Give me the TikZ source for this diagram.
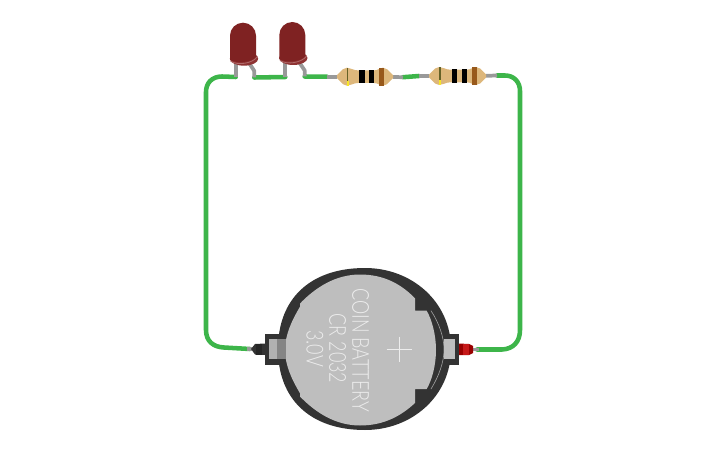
\documentclass[tikz,border=0pt]{standalone}
\usepackage{fontspec}
\newfontfamily\thinfont{Lato Light}
\definecolor{wiregreen}{HTML}{3DB54A}
\definecolor{leadgray}{HTML}{999999}
\definecolor{ledred}{HTML}{7F2222}
\definecolor{ledrim}{HTML}{8E3232}
\definecolor{ledlight}{HTML}{B06A6A}
\definecolor{tan}{HTML}{DDB77B}
\definecolor{holder}{HTML}{333333}
\definecolor{cell}{HTML}{BEBEBE}
\definecolor{celltext}{HTML}{EDEDED}
\tikzset{
  wire/.style={draw=wiregreen,line width=3.4pt,line cap=round,line join=round},
  lead/.style={draw=leadgray,line width=2.8pt,line join=round},
  celllabel/.style={rotate=-90,text=celltext,inner sep=0pt,font=\thinfont\fontsize{17.5}{17.5}\selectfont},
  led/.pic={
    \fill[ledrim] (14,36) ellipse [x radius=14.2,y radius=7];
    \draw[ledlight,line width=.6pt] (0.6,38.5) .. controls (8,43) and (22,41) .. (27.5,34);
    \fill[ledred] (0,13) arc [start angle=180,end angle=360,radius=13] -- (26,34) .. controls (22,40) and (6,41) .. (0,37) -- cycle;
  },
  resistor/.pic={
    \fill[tan] (0,-1.5) -- (6,-7.5) .. controls (7.5,-9) and (8,-9) .. (10,-9) .. controls (14,-9) and (16,-6.3) .. (21,-6.3)
      -- (37,-6.3) .. controls (41,-6.3) and (43,-9) .. (46,-9) .. controls (48,-9) and (48.5,-9) .. (50,-7.5) -- (56,-1.5)
      -- (56,1.5) -- (50,7.5) .. controls (48.5,9) and (48,9) .. (46,9) .. controls (43,9) and (41,6.3) .. (37,6.3)
      -- (21,6.3) .. controls (16,6.3) and (14,9) .. (10,9) .. controls (8,9) and (7.5,9) .. (6,7.5) -- (0,1.5) -- cycle;
    \fill[black!10!olive!70!black] (10.1,-8.7) rectangle (11.4,4);
    \fill[yellow!75!tan] (10,4) rectangle (12,9);
    \fill[black] (22.3,-6.6) rectangle (27.7,6.6);
    \fill[black] (32,-6.6) rectangle (37.3,6.6);
    \fill[brown!60!orange!70!black] (41.7,-9) rectangle (47,9);
  }
}
\begin{document}
\begin{tikzpicture}[x=0.75pt,y=-0.75pt]
\useasboundingbox (0,0) rectangle (725,453);
% named anchor points
\coordinate (a1) at (235.7,77);
\coordinate (c1) at (254.3,77.5);
\coordinate (a2) at (285.3,77);
\coordinate (c2) at (304.7,76.5);
\coordinate (r1l) at (337,76.7);
\coordinate (r1r) at (393,77);
\coordinate (r2l) at (429,76);
\coordinate (r2r) at (486,75.8);
\coordinate (bn) at (250,349);
\coordinate (bp) at (477,349.5);
% wires
\draw[wire] (a1) -- (222,76.5) .. controls (212,76.5) and (206,83) .. (206,92) -- (206,330)
  .. controls (206,341) and (213,347) .. (224,347.5) -- (bn);
\draw[wire] (c1) -- (a2);
\draw[wire] (c2) -- (327,76.7);
\draw[wire] (403,77.2) -- (419,76);
\draw[wire] (497,75.5) -- (505,75.5) .. controls (514,75.5) and (520,82) .. (520,91) -- (520,330)
  .. controls (520,342) and (513,349) .. (502,349.5) -- (bp);
% leads
\draw[lead] (a1) -- (235.7,60);
\draw[lead] (c1) -- (254.3,71) -- (248.5,62);
\draw[lead] (a2) -- (285.3,60);
\draw[lead] (c2) -- (304.7,70.5) -- (299,62);
\draw[lead] (327,76.7) -- (r1l);
\draw[lead] (r1r) -- (403,77.2);
\draw[lead] (419,76) -- (r2l);
\draw[lead] (r2r) -- (497,75.5);
% LEDs
\pic at (230,22.7) {led};
\pic at (279.3,22) {led};
% resistors
\pic at (337,76.7) {resistor};
\pic[xscale=1.02] at (429,76) {resistor};
% battery terminals
\draw[leadgray,line width=2.4pt] (247,349) -- (252,349);
\fill[holder] (251,349) -- (255,344) -- (265,343.5) -- (265,355) -- (255,354.5) -- cycle;
\fill[black!85] (256,343.5) rectangle (262,355);
\draw[leadgray,line width=2.4pt] (472,349.3) -- (479,349.3);
\fill[red!60!black] (459,343.5) -- (469,344) -- (473,346) -- (473,353) -- (469,355) -- (459,355) -- cycle;
\fill[red!75!black!90] (463,344) rectangle (469,355);
% holder
\fill[holder] (365,268) .. controls (311,268) and (278,298) .. (278,349)
  .. controls (278,400) and (311,430) .. (365,430)
  .. controls (412,430) and (451,396) .. (451,349)
  .. controls (451,302) and (412,268) .. (365,268) -- cycle;
\fill[holder] (265,334) rectangle (287,365);
\fill[holder] (443,334) rectangle (459,365);
% cell
\fill[cell] (360,274.5) .. controls (335,274.5) and (315,288) .. (300,303.5) -- (300,306.7)
  .. controls (292,320) and (285,335) .. (285,350) .. controls (285,365) and (292,380) .. (300,393.3)
  -- (300,396.5) .. controls (315,412) and (335,425.5) .. (360,425.5)
  .. controls (385,425.5) and (402,415) .. (415,403) -- (415,389) -- (426.7,389)
  .. controls (432,380) and (436,365) .. (436,350) .. controls (436,335) and (432,320) .. (426.7,310.7)
  -- (415,310.7) -- (415,298.3) .. controls (402,285) and (385,274.5) .. (360,274.5) -- cycle;
\draw[cell!85!black,line width=.45pt] (431,310.7) .. controls (439,323) and (444,337) .. (444,349.5) .. controls (444,362) and (439,376) .. (431,389);
% tab windows
\fill[cell!120!white] (269.3,339) rectangle (276.7,359.3);
\fill[cell!70!black] (276.7,339) rectangle (285.5,359.3);
\fill[cell] (444.3,339.3) rectangle (454.5,359.3);
% labels
\node[celllabel] (t1) at (360.7,350) {\scalebox{.77}[1]{COIN BATTERY}};
\node[celllabel] (t2) at (337.7,348.5) {\scalebox{.77}[1]{CR 2032}};
\node[celllabel] (t3) at (315,348.5) {\scalebox{.77}[1]{3.0V}};
% plus
\draw[celltext,line width=.5pt] (386.7,349.3) -- (412.3,349.3) (399.7,336.5) -- (399.7,362);
\end{tikzpicture}
\end{document}
